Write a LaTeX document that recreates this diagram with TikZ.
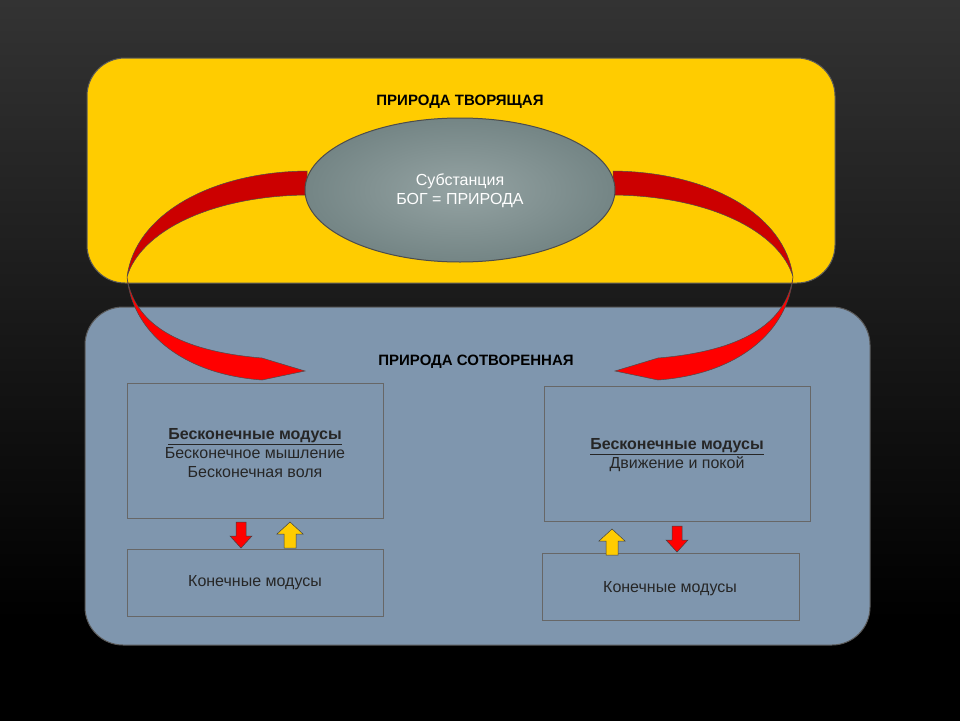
\documentclass[tikz,border=0pt]{standalone}
\usepackage{fontspec}
\setmainfont{Liberation Sans}
\usetikzlibrary{shapes.geometric}
\definecolor{yel}{HTML}{FFCC00}
\definecolor{blu}{HTML}{7F96AE}
\definecolor{ell}{HTML}{7A8C8C}
\definecolor{dred}{HTML}{CC0000}
\tikzset{
 big/.style={draw=gray!70!black, line width=1pt, rounded corners=38pt},
 modbox/.style={draw=gray!30!black!70, line width=0.8pt, fill=blu},
 txt/.style={font=\fontsize{16}{19}\selectfont, align=center, text=black!85},
 ttl/.style={font=\bfseries\fontsize{15}{18}\selectfont, text=black},
 band/.style={draw=gray!60!black, line width=0.5pt},
 smallarr/.style={draw=gray!50!black, line width=0.5pt}
}
\begin{document}
\begin{tikzpicture}[x=1pt,y=-1pt]
\shade[top color=black!80, bottom color=black] (0,0) rectangle (960,720);
\useasboundingbox (0,0) rectangle (960,720);
\fill[black] (0,620) rectangle (960,720);
\shade[top color=black!80, bottom color=black] (0,0) rectangle (960,620);
\draw[big, fill=yel] (87,58) rectangle (835,283);
\draw[big, fill=blu] (85,307) rectangle (870,645);
% bands
\foreach \s/\xs in {1/0, -1/920}{
\begin{scope}[xshift=\xs pt, xscale=\s]
\draw[band, fill=dred] (307,171) .. controls (210,172) and (135,215) .. (127,277)
   .. controls (140,232) and (210,196) .. (307,195) -- cycle;
\draw[band, fill=red] (127,277) .. controls (135,330) and (190,352) .. (262,358)
   -- (305,371) -- (262,380) .. controls (180,374) and (132,330) .. (127,277) -- cycle;
\end{scope}}
\node[ellipse, draw=gray!60!black, line width=1pt, minimum width=310pt, minimum height=144pt,
  inner color=ell!80, outer color=ell!95!black] (sub) at (460,190) {};
\node[txt, text=white] (subt) at (460,191) {Субстанция\\БОГ = ПРИРОДА};
\node[ttl] (t1) at (460,102) {ПРИРОДА ТВОРЯЩАЯ};
\node[ttl] (t2) at (476,362) {ПРИРОДА СОТВОРЕННАЯ};
% boxes
\draw[modbox] (127,383) rectangle (383,518);
\node[txt] (l1) at (255,453) {\textbf{\underline{Бесконечные модусы}}\\Бесконечное мышление\\Бесконечная воля};
\draw[modbox] (127,549) rectangle (383,616);
\node[txt] (l2) at (255,583) {Конечные модусы};
\draw[modbox] (544,386) rectangle (810,521);
\node[txt] (r1) at (677,455) {\textbf{\underline{Бесконечные модусы}}\\Движение и покой};
\draw[modbox] (542,553) rectangle (799,620);
\node[txt] (r2) at (670,589) {Конечные модусы};
% small arrows
\newcommand\dnarr[3]{\draw[smallarr, fill=#3] (#1-5,#2) -- (#1+5,#2) -- (#1+5,#2+14) -- (#1+11,#2+14) -- (#1,#2+26) -- (#1-11,#2+14) -- (#1-5,#2+14) -- cycle;}
\newcommand\uparr[3]{\draw[smallarr, fill=#3] (#1-6,#2+26) -- (#1+6,#2+26) -- (#1+6,#2+12) -- (#1+13,#2+12) -- (#1,#2) -- (#1-13,#2+12) -- (#1-6,#2+12) -- cycle;}
\dnarr{241}{522}{red}
\uparr{290}{522}{yel}
\uparr{612}{529}{yel}
\dnarr{677}{526}{red}
\end{tikzpicture}
\end{document}
